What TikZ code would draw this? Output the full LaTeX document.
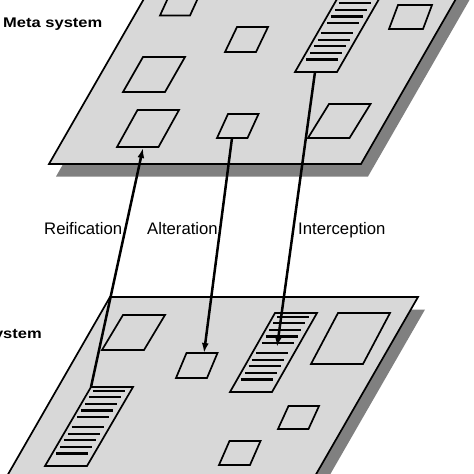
\documentclass[tikz,border=0pt]{standalone}
\usepackage{fontspec}
\setmainfont{Liberation Sans}
\usetikzlibrary{arrows.meta}
\definecolor{planegray}{RGB}{216,216,216}
\definecolor{shadowgray}{RGB}{128,128,128}
% parallelogram: bottom-left x, y, width, height, shift
\newcommand\plg[5]{\draw[shapeline] (#1,#2) -- ++(#3,0) -- ++(#5,-#4) -- ++(-#3,0) -- cycle;}
\newcommand\stripeset[5]{%
  \foreach \t in {12.5,19.1,25.7,32.3,38.9,48.9,55.5,62.1,68.7,75.3}{%
    \draw[stripe] ({#1+\t*#5/#4+4},{#2-\t}) -- ++({#3-10},0);}}
\begin{document}
\begin{tikzpicture}[x=1pt,y=-1pt,
  shapeline/.style={draw=black,line width=1.7pt,line join=miter},
  planeline/.style={draw=black,fill=planegray,line width=1.7pt},
  shadow/.style={fill=shadowgray},
  stripe/.style={draw=black,line width=2.1pt},
  conn/.style={draw=black,line width=2.5pt,-{Latex[length=10pt,width=7pt]}},
  lab/.style={font=\fontsize{16.7}{20}\selectfont,inner sep=0pt},
  title/.style={font=\fontsize{14}{17}\bfseries\selectfont,inner sep=0pt}]
\useasboundingbox (0,0) rectangle (474,474);
\fill[white] (0,0) rectangle (474,474);
\clip (0,0) rectangle (474,474);
% ---------- top plane ----------
\fill[shadow] (56,176.5) -- (368,176.5) -- (473.8,-7.5) -- (161.8,-7.5) -- cycle;
\draw[planeline] (49,164) -- (361,164) -- (466.8,-20) -- (154.8,-20) -- cycle;
\plg{160}{15.5}{30}{24}{11}
\plg{225}{52}{31}{25}{12}
\plg{123}{92}{42}{35}{20}
\plg{117}{147}{41.5}{37}{20.5}
\plg{217}{138}{30.5}{24}{11}
\plg{295}{72}{42}{79}{45.5}
\stripeset{295}{72}{42}{79}{45.5}
\plg{308}{138}{41.5}{34}{21}
\plg{389}{29}{34}{24}{9}
% ---------- bottom plane ----------
\fill[shadow] (3.7,506.5) -- (311.7,506.5) -- (425,309.5) -- (117,309.5) -- cycle;
\draw[planeline] (-3.3,494) -- (304.7,494) -- (418,297) -- (110,297) -- cycle;
\plg{102}{350}{42}{35}{21}
\plg{176}{378}{31}{25}{10.5}
\plg{230}{392}{42}{79}{45}
\stripeset{230}{392}{42}{79}{45}
\plg{311}{364}{52}{51}{27}
\plg{45}{466}{42}{79}{46}
\stripeset{45}{466}{42}{79}{46}
\plg{278}{429}{30.5}{23}{10.5}
\plg{219}{465}{31}{24}{10.5}
% ---------- connector end points ----------
\coordinate (reifFrom) at (91,387);
\coordinate (reifTo) at (143,148);
\coordinate (altFrom) at (232,138);
\coordinate (altTo) at (204,353);
\coordinate (intFrom) at (315,72);
\coordinate (intTo) at (277,347);
\draw[conn] (reifFrom) -- (reifTo);
\draw[conn] (altFrom) -- (altTo);
\draw[conn] (intFrom) -- (intTo);
% ---------- labels ----------
\node[lab,anchor=base west] (lreif) at (44,234) {Reification};
\node[lab,anchor=base west] (lalt) at (147,234) {Alteration};
\node[lab,anchor=base west] (lint) at (298,234) {Interception};
\node[title,anchor=base west] (lmeta) at (3,27.3) {\scalebox{1.18}[1]{Meta system}};
\node[title,anchor=base east] (lbase) at (42,338) {\scalebox{1.18}[1]{Base system}};
\end{tikzpicture}
\end{document}
